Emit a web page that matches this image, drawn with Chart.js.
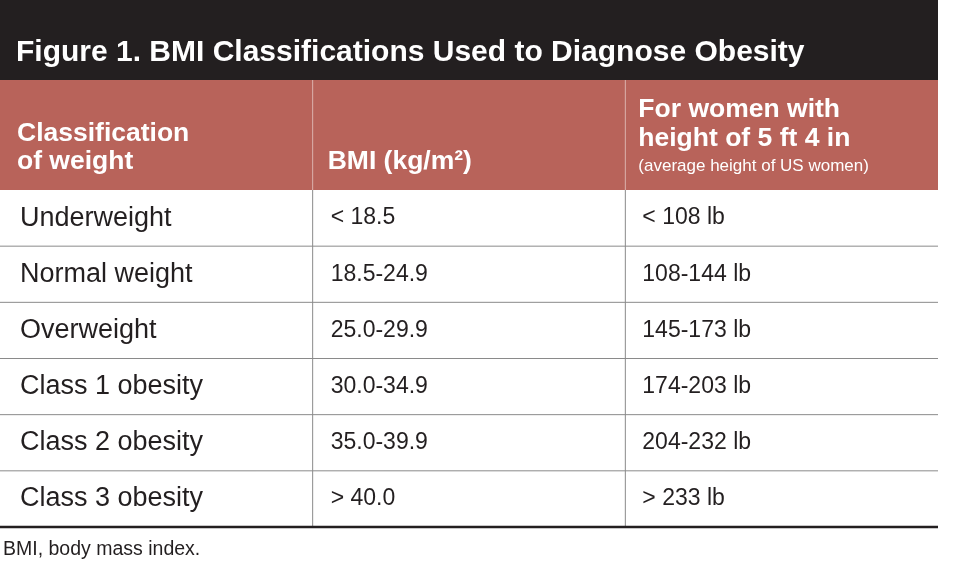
<!DOCTYPE html>
<html><head><meta charset="utf-8">
<script src="https://cdn.jsdelivr.net/npm/chart.js@4"></script>
<style>body{margin:0;background:#fff}</style></head>
<body><canvas id="c" width="953" height="563"></canvas>
<script>
const title = "Figure 1. BMI Classifications Used to Diagnose Obesity";
const columns = ["Classification of weight", "BMI (kg/m²)", "For women with height of 5 ft 4 in"];
const categories = ["Underweight", "Normal weight", "Overweight", "Class 1 obesity", "Class 2 obesity", "Class 3 obesity"];
const bmiRanges = ["< 18.5", "18.5-24.9", "25.0-29.9", "30.0-34.9", "35.0-39.9", "> 40.0"];
const weightRanges = ["< 108 lb", "108-144 lb", "145-173 lb", "174-203 lb", "204-232 lb", "> 233 lb"];
const footnote = "BMI, body mass index.";
const FONT = '"Liberation Sans", Arial, sans-serif';

const tablePlugin = {
  id: 'table',
  afterDraw(chart) {
    const ctx = chart.ctx, a = chart.chartArea;
    const xs = chart.scales.x, ys = chart.scales.y;
    const colW = (a.right - a.left) / columns.length;
    const rowH = (a.bottom - a.top) / categories.length;
    ctx.save();
    ctx.fillStyle = '#231f20';
    ctx.fillRect(0, 0, a.right, 80);
    ctx.fillStyle = '#fff';
    ctx.font = 'bold 30px ' + FONT;
    ctx.textBaseline = 'middle';
    ctx.fillText(title, 16, 53);
    ctx.fillStyle = '#b8635a';
    ctx.fillRect(0, 80, a.right, a.top - 80);
    const colLeft = i => xs.getPixelForValue(i) - colW / 2;
    ctx.fillStyle = '#fff';
    ctx.font = 'bold 26.5px ' + FONT;
    ctx.fillText("Classification", colLeft(0) + 17, 134);
    ctx.fillText("of weight", colLeft(0) + 17, 162);
    ctx.fillText("BMI (kg/m²)", colLeft(1) + 15, 162);
    ctx.fillText("For women with", colLeft(2) + 13, 110);
    ctx.fillText("height of 5 ft 4 in", colLeft(2) + 13, 139);
    ctx.font = '17px ' + FONT;
    ctx.fillText("(average height of US women)", colLeft(2) + 13, 166);
    ctx.strokeStyle = 'rgba(255,255,255,0.5)';
    ctx.lineWidth = 1;
    for (let i = 1; i < columns.length; i++) {
      ctx.beginPath(); ctx.moveTo(colLeft(i), 80); ctx.lineTo(colLeft(i), a.top); ctx.stroke();
    }
    ctx.strokeStyle = '#8a8a8a';
    for (let r = 1; r < categories.length; r++) {
      const y = ys.getPixelForValue(r) - rowH / 2;
      ctx.beginPath(); ctx.moveTo(0, y); ctx.lineTo(a.right, y); ctx.stroke();
    }
    for (let i = 1; i < columns.length; i++) {
      ctx.beginPath(); ctx.moveTo(colLeft(i), a.top); ctx.lineTo(colLeft(i), a.bottom); ctx.stroke();
    }
    ctx.strokeStyle = '#231f20'; ctx.lineWidth = 2.5;
    ctx.beginPath(); ctx.moveTo(0, a.bottom); ctx.lineTo(a.right, a.bottom); ctx.stroke();
    ctx.fillStyle = '#231f20';
    categories.forEach((c, r) => {
      const y = ys.getPixelForValue(r);
      ctx.font = '27px ' + FONT;
      ctx.fillText(c, colLeft(0) + 20, y);
      ctx.font = '23px ' + FONT;
      ctx.fillText(bmiRanges[r], colLeft(1) + 18, y);
      ctx.fillText(weightRanges[r], colLeft(2) + 17, y);
    });
    ctx.font = '19.5px ' + FONT;
    ctx.fillText(footnote, 3, 550);
    ctx.restore();
  }
};

new Chart(document.getElementById('c'), {
  type: 'bar',
  data: { labels: columns, datasets: [] },
  options: {
    responsive: false, animation: false,
    layout: { padding: { left: 0, right: 15, top: 190, bottom: 36 } },
    plugins: { legend: { display: false }, tooltip: { enabled: false } },
    scales: {
      x: { type: 'category', labels: columns, display: false, offset: true },
      y: { type: 'category', labels: categories, display: false, offset: true }
    }
  },
  plugins: [tablePlugin]
});
</script></body></html>
